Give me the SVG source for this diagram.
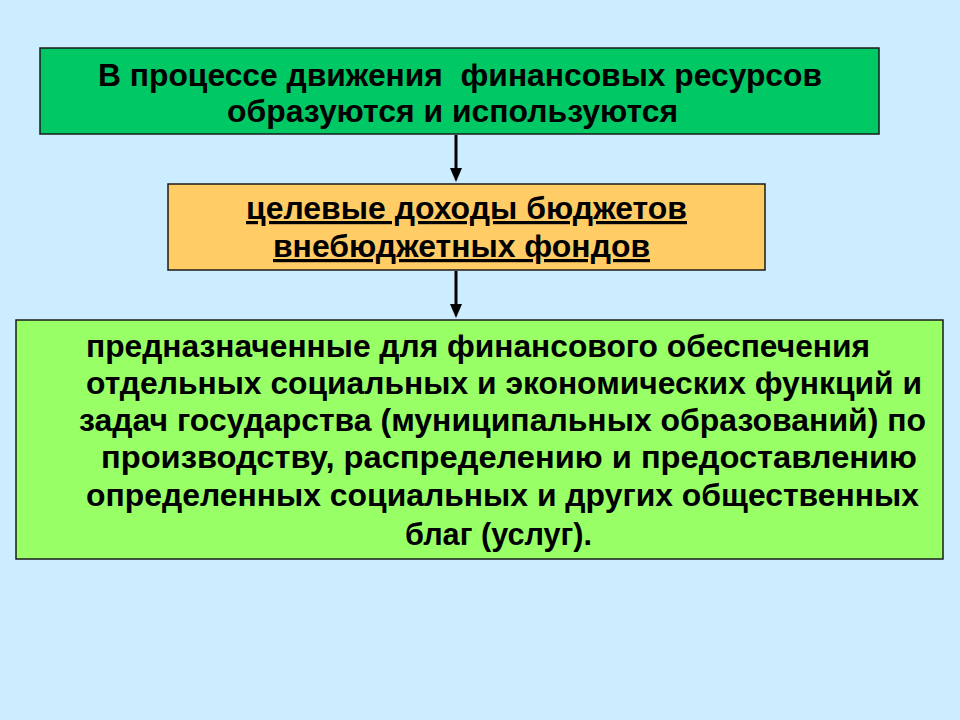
<svg xmlns="http://www.w3.org/2000/svg" width="960" height="720" viewBox="0 0 960 720">
  <defs>
    <style>
      .box { stroke: #1a1a1a; stroke-width: 1.5; }
      .t { font-family: "Liberation Sans", Arial, sans-serif; font-weight: bold; font-size: 32px; fill: #000; }
      .u { text-decoration: underline; }
      .conn { stroke: #000; stroke-width: 3; fill: none; }
    </style>
    <marker id="arrow" markerUnits="userSpaceOnUse" markerWidth="14" markerHeight="12" refX="4" refY="6" orient="auto">
      <path d="M0,0 L14,6 L0,12 z" fill="#000"/>
    </marker>
  </defs>
  <rect x="0" y="0" width="960" height="720" fill="#CCECFF"/>

  <g id="node-process">
    <rect class="box" x="40" y="48" width="839" height="86" fill="#00C864"/>
    <text class="t" x="98" y="86" textLength="724" lengthAdjust="spacingAndGlyphs" xml:space="preserve">В процессе движения  финансовых ресурсов</text>
    <text class="t" x="227" y="122" textLength="451" lengthAdjust="spacingAndGlyphs">образуются и используются</text>
  </g>

  <g id="node-target-income">
    <rect class="box" x="168" y="184" width="597" height="86" fill="#FFCC66"/>
    <text class="t u" x="246" y="219" textLength="441" lengthAdjust="spacingAndGlyphs">целевые доходы бюджетов</text>
    <text class="t u" x="273" y="257" textLength="377" lengthAdjust="spacingAndGlyphs">внебюджетных фондов</text>
  </g>

  <g id="node-purpose">
    <rect class="box" x="16" y="320" width="927" height="239" fill="#99FF66"/>
    <text class="t" x="86" y="357" textLength="784" lengthAdjust="spacingAndGlyphs">предназначенные для финансового обеспечения</text>
    <text class="t" x="86" y="394" textLength="836" lengthAdjust="spacingAndGlyphs">отдельных социальных и экономических функций и</text>
    <text class="t" x="79" y="431" textLength="847" lengthAdjust="spacingAndGlyphs">задач государства (муниципальных образований) по</text>
    <text class="t" x="101" y="468" textLength="816" lengthAdjust="spacingAndGlyphs">производству, распределению и предоставлению</text>
    <text class="t" x="86" y="506" textLength="833" lengthAdjust="spacingAndGlyphs">определенных социальных и других общественных</text>
    <text class="t" x="405" y="545" textLength="187" lengthAdjust="spacingAndGlyphs">благ (услуг).</text>
  </g>

  <g id="connectors">
    <line class="conn" x1="456" y1="135" x2="456" y2="172" marker-end="url(#arrow)"/>
    <line class="conn" x1="456" y1="271" x2="456" y2="308" marker-end="url(#arrow)"/>
  </g>
</svg>
